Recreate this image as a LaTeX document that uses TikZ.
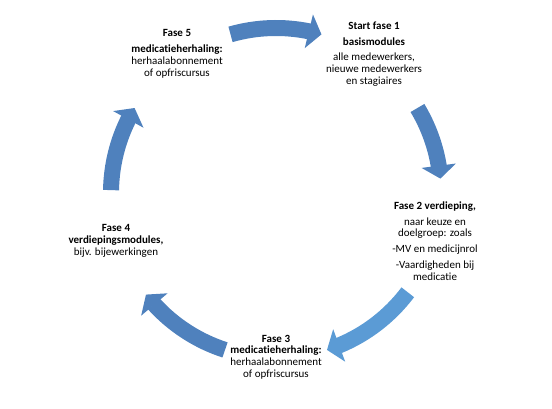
\documentclass[tikz,border=0pt]{standalone}
\usepackage{fontspec}
\setmainfont[Ligatures=NoCommon]{Carlito}
\usetikzlibrary{arrows.meta,bending}
\definecolor{cycleblue}{RGB}{79,129,189}
\definecolor{lightcycleblue}{RGB}{91,155,213}

\begin{document}
\begin{tikzpicture}[
    x=1pt, y=1pt,
    phase/.style={align=center, inner sep=0pt, font=\fontsize{11}{11.8}\selectfont},
    bluearrow/.style={draw=cycleblue, line width=16pt, -{Triangle[width=34pt,length=13pt]}}
]
\useasboundingbox (0,0) rectangle (552,409);

% Nodes
\coordinate (centre) at (276,216);
\node[phase] (fase1) at (374,355) {\textbf{Start fase 1}\\[4pt] \textbf{basismodules}\\[4pt] alle medewerkers,\\ nieuwe medewerkers\\ en stagiaires};
\node[phase] (fase2) at (435,168) {\textbf{Fase 2 verdieping,}\\[4pt] naar keuze en\\ doelgroep: zoals\\[4pt] -MV en medicijnrol\\[4pt] -Vaardigheden bij\\ medicatie};
\node[phase] (fase3) at (276,52) {\textbf{Fase 3}\\ \textbf{medicatieherhaling:}\\ herhaalabonnement\\ of opfriscursus};
\node[phase] (fase4) at (116,168) {\textbf{Fase 4}\\ \textbf{verdiepingsmodules,}\\ bijv. bijewerkingen};
\node[phase] (fase5) at (177,355) {\textbf{Fase 5}\\[4pt] \textbf{medicatieherhaling:}\\ herhaalabonnement\\ of opfriscursus};

% Arrows
\draw[bluearrow] ([shift={(106:165)}]centre) arc[start angle=106, end angle=74, radius=165];
\draw[bluearrow] ([shift={(31:165)}]centre) arc[start angle=31, end angle=5, radius=165];
\draw[bluearrow, draw=lightcycleblue] ([shift={(-37:165)}]centre) arc[start angle=-37, end angle=-72, radius=165];
\draw[bluearrow] ([shift={(-108:165)}]centre) arc[start angle=-108, end angle=-142, radius=165];
\draw[bluearrow] ([shift={(179:165)}]centre) arc[start angle=179, end angle=149, radius=165];

\end{tikzpicture}
\end{document}
